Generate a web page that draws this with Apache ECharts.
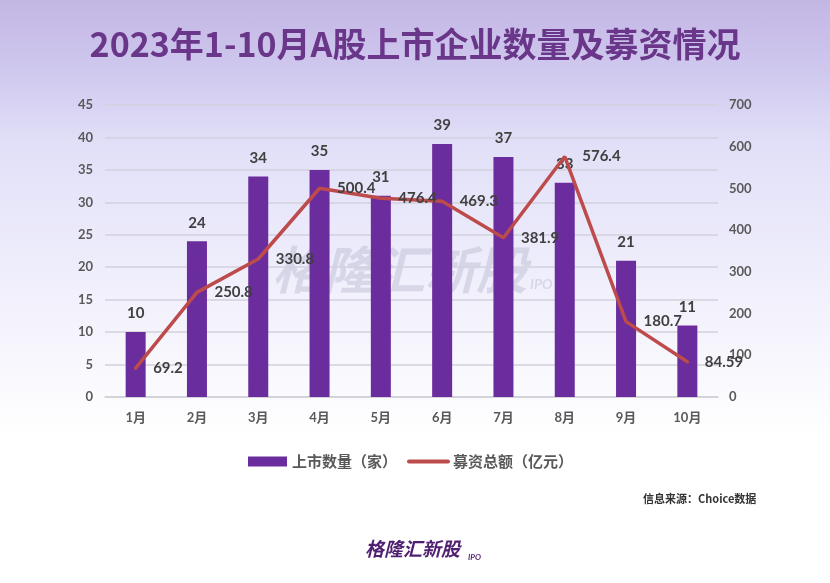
<!DOCTYPE html>
<html>
<head>
<meta charset="utf-8">
<script src="https://cdn.jsdelivr.net/npm/echarts@6/dist/echarts.min.js"></script>
<style>
  html, body { margin: 0; padding: 0; }
  body {
    width: 830px; height: 583px; overflow: hidden;
    background: linear-gradient(180deg, #c3b6e4 0%, #cfc8ee 12%, #e2e0f8 25%, #f1f0fc 50%, #ffffff 75%, #ffffff 100%);
  }
  #chart { width: 830px; height: 583px; }
</style>
</head>
<body>
<div id="chart"></div>
<script>
// 数据
const months = ["1月", "2月", "3月", "4月", "5月", "6月", "7月", "8月", "9月", "10月"];
const listCount = [10, 24, 34, 35, 31, 39, 37, 33, 21, 11];
const raised = [69.2, 250.8, 330.8, 500.4, 476.4, 469.3, 381.9, 576.4, 180.7, 84.59];

const chart = echarts.init(document.getElementById("chart"));
const axisFont = "Lato, 'Noto Sans CJK SC', sans-serif";
const lineColor = "#bd4b4b";

const option = {
  backgroundColor: "transparent",
  title: {
    text: "2023年1-10月A股上市企业数量及募资情况",
    left: "center",
    top: 22,
    textStyle: {
      fontFamily: "'Noto Sans CJK SC', sans-serif",
      fontSize: 34,
      fontWeight: "bold",
      color: "#6a3689",
    },
  },
  graphic: [
    // 水印
    {
      type: "text",
      left: 272,
      top: 244,
      z: -10,
      silent: true,
      style: {
        text: "格隆汇新股",
        font: "italic bold 51px 'Noto Sans CJK SC'",
        fill: "rgba(160,160,185,0.3)",
      },
    },
    {
      type: "text",
      left: 530,
      top: 277,
      z: -10,
      silent: true,
      style: {
        text: "IPO",
        font: "italic bold 14px Lato",
        fill: "rgba(160,160,185,0.3)",
      },
    },
    // 信息来源
    {
      type: "text",
      left: 643,
      top: 493,
      style: {
        text: "信息来源：Choice数据",
        font: "bold 11px 'Noto Sans CJK SC'",
        fill: "#333333",
      },
    },
    // 底部 logo
    {
      type: "text",
      left: 365,
      top: 539,
      style: {
        text: "格隆汇新股",
        font: "italic bold 19px 'Noto Sans CJK SC'",
        fill: "#4f1f72",
      },
    },
    {
      type: "text",
      left: 468,
      top: 553,
      style: {
        text: "IPO",
        font: "italic bold 8px Lato",
        fill: "#4f1f72",
      },
    },
  ],
  legend: {
    top: 449,
    left: 243,
    itemWidth: 39,
    itemHeight: 10,
    itemGap: 10,
    textStyle: {
      fontFamily: "'Noto Sans CJK SC', sans-serif",
      fontSize: 15,
      fontWeight: "bold",
      color: "#595959",
    },
    data: [
      { name: "上市数量（家）", icon: "rect" },
      { name: "募资总额（亿元）", itemStyle: { opacity: 0 }, lineStyle: { width: 4 } },
    ],
  },
  grid: {
    left: 105,
    right: 112,
    top: 105,
    bottom: 186,
  },
  xAxis: {
    type: "category",
    data: months,
    axisLine: { show: true, lineStyle: { color: "#d0d0d8", width: 1.5 } },
    axisTick: { show: false },
    axisLabel: {
      margin: 14,
      fontFamily: axisFont,
      fontSize: 13,
      fontWeight: "bold",
      color: "#595959",
    },
  },
  yAxis: [
    {
      type: "value",
      min: 0,
      max: 45,
      interval: 5,
      axisLine: { show: false },
      axisTick: { show: false },
      splitLine: { lineStyle: { color: "#d3d1dc", width: 1.5 } },
      axisLabel: {
        margin: 12,
        fontFamily: axisFont,
        fontSize: 13,
        fontWeight: "bold",
        color: "#595959",
      },
    },
    {
      type: "value",
      min: 0,
      max: 700,
      interval: 100,
      axisLine: { show: false },
      axisTick: { show: false },
      splitLine: { show: false },
      axisLabel: {
        margin: 11,
        fontFamily: axisFont,
        fontSize: 13,
        fontWeight: "bold",
        color: "#595959",
      },
    },
  ],
  series: [
    {
      name: "上市数量（家）",
      type: "bar",
      data: listCount,
      barWidth: 20,
      itemStyle: { color: "#6b2c9e" },
      label: {
        show: true,
        position: "top",
        distance: 11,
        fontFamily: axisFont,
        fontSize: 15,
        fontWeight: "bold",
        color: "#404040",
      },
    },
    {
      name: "募资总额（亿元）",
      type: "line",
      yAxisIndex: 1,
      data: raised,
      symbol: "none",
      lineStyle: { color: lineColor, width: 3.5, cap: "round" },
      itemStyle: { color: lineColor },
      z: 3,
    },
    {
      // 仅用于显示折线数值标签
      name: "募资标签",
      type: "line",
      yAxisIndex: 1,
      data: raised,
      symbol: "circle",
      symbolSize: 1,
      showSymbol: true,
      lineStyle: { opacity: 0 },
      itemStyle: { color: lineColor },
      z: 4,
      silent: true,
      label: {
        show: true,
        position: "right",
        distance: 17,
        fontFamily: axisFont,
        fontSize: 15,
        fontWeight: "bold",
        color: "#404040",
      },
    },
  ],
};

chart.setOption(option);
</script>
</body>
</html>
